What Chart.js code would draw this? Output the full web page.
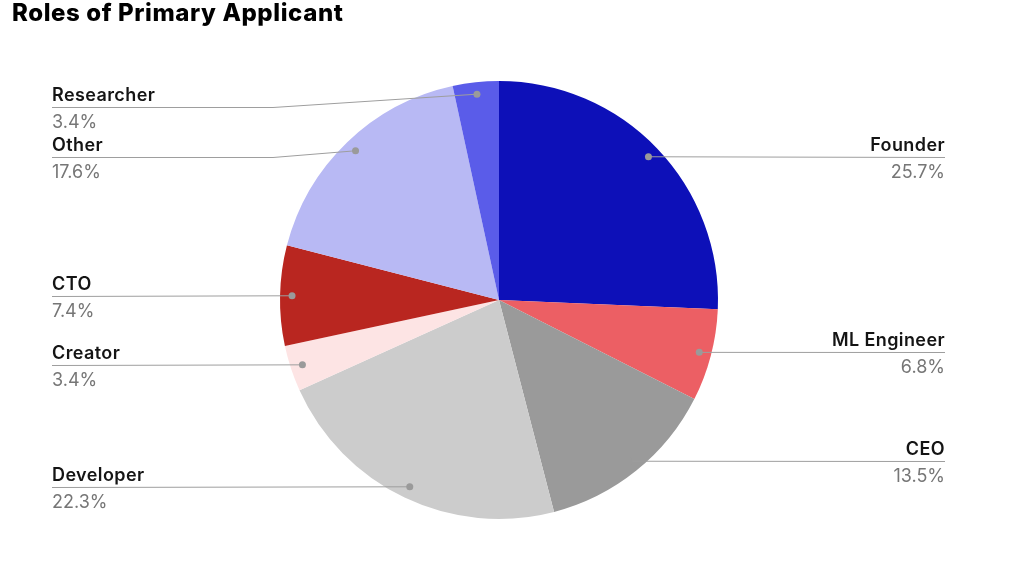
<!DOCTYPE html>
<html>
<head>
<meta charset="utf-8">
<script src="https://cdn.jsdelivr.net/npm/chart.js@4.4.1/dist/chart.umd.min.js"></script>
<style>
  html, body { margin: 0; padding: 0; background: #fff; }
  #wrap { width: 1024px; height: 564px; position: relative; }
</style>
</head>
<body>
<div id="wrap"><canvas id="rolesChart" width="1024" height="564"></canvas></div>
<script>
// data
const roles = ['Founder', 'ML Engineer', 'CEO', 'Developer', 'Creator', 'CTO', 'Other', 'Researcher'];
const shares = [25.7, 6.8, 13.5, 22.3, 3.4, 7.4, 17.6, 3.4];
const sliceColors = ['#0d10b8', '#ec5f64', '#9a9a9a', '#cccccc', '#fde4e4', '#b92620', '#b8b9f4', '#5a5ce9'];

const chartTitle = 'Roles of Primary Applicant';
const FONT = 'Inter, "Noto Sans", sans-serif';

// labels + leader lines on both sides of the pie
const sideLabels = {
  id: 'sideLabels',
  afterDraw(chart) {
    const ctx = chart.ctx;
    const arcs = chart.getDatasetMeta(0).data;
    if (!arcs.length) return;
    const cx = arcs[0].x, cy = arcs[0].y, r = arcs[0].outerRadius;

    const items = arcs.map((a, i) => {
      const mid = (a.startAngle + a.endAngle) / 2;
      const dx = cx + Math.cos(mid) * (r - 12);
      const dy = cy + Math.sin(mid) * (r - 12);
      return { i, dx, dy, ly: dy, right: dx >= cx };
    });

    // push labels apart per side
    [true, false].forEach(side => {
      const list = items.filter(it => it.right === side).sort((a, b) => a.dy - b.dy);
      let prev = cy - r + 26 - 50;
      list.forEach(it => {
        it.ly = Math.max(it.ly, prev + 50, cy - r + 26);
        prev = it.ly;
      });
    });

    ctx.save();
    items.forEach(it => {
      const ly = Math.round(it.ly) + 0.5;
      const edgeX = it.right ? 945 : 52;
      const bendX = it.right ? cx + r + 7 : cx - r - 7;

      ctx.strokeStyle = '#9e9e9e';
      ctx.lineWidth = 1;
      ctx.beginPath();
      ctx.moveTo(edgeX, ly);
      if (Math.abs(it.ly - it.dy) > 1) {
        ctx.lineTo(bendX, ly);
      }
      ctx.lineTo(it.dx, it.dy);
      ctx.stroke();

      ctx.fillStyle = '#9a9a9a';
      ctx.beginPath();
      ctx.arc(it.dx, it.dy, 3.5, 0, Math.PI * 2);
      ctx.fill();

      ctx.textAlign = it.right ? 'right' : 'left';
      ctx.textBaseline = 'alphabetic';
      ctx.fillStyle = '#141414';
      ctx.font = '600 18px ' + FONT;
      ctx.letterSpacing = '0.4px';
      ctx.fillText(roles[it.i], edgeX, ly - 7);
      ctx.fillStyle = '#767676';
      ctx.font = '400 18px ' + FONT;
      ctx.letterSpacing = '0px';
      ctx.fillText(shares[it.i].toFixed(1) + '%', edgeX, ly + 20);
    });

    ctx.textAlign = 'left';
    ctx.fillStyle = '#000';
    ctx.font = '800 24px ' + FONT;
    ctx.letterSpacing = '0.6px';
    ctx.fillText(chartTitle, 12, 21);
    ctx.restore();
  }
};

new Chart(document.getElementById('rolesChart'), {
  type: 'pie',
  data: {
    labels: roles,
    datasets: [{
      data: shares,
      backgroundColor: sliceColors,
      borderWidth: 0
    }]
  },
  options: {
    responsive: false,
    animation: false,
    layout: { padding: { left: 280, right: 306, top: 81, bottom: 45 } },
    plugins: {
      legend: { display: false },
      tooltip: { enabled: false }
    }
  },
  plugins: [sideLabels]
});
</script>
</body>
</html>
